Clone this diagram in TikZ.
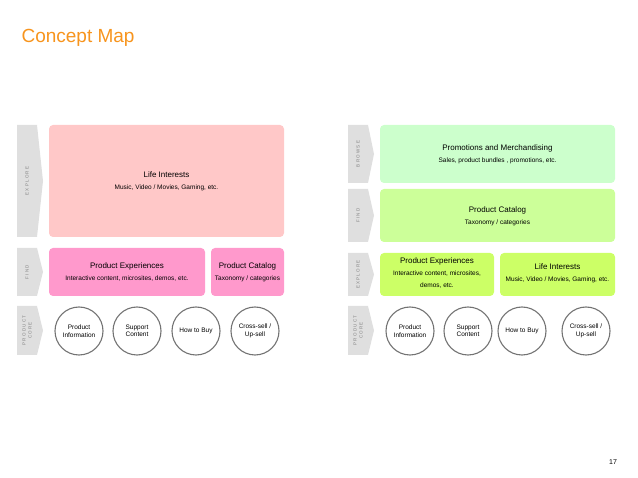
\documentclass[tikz,border=0pt]{standalone}
\usepackage{fontspec}
\setmainfont{Liberation Sans}
\begin{document}
\begin{tikzpicture}[x=1pt,y=-1pt,
  box/.style={rounded corners=4pt,draw=none},
  circ/.style={circle,draw=gray!90!black,line width=1.1pt,minimum size=48pt,inner sep=0pt,font=\fontsize{6.5}{7.5}\selectfont,align=center},
  tab/.style={fill=gray!25,draw=none},
  tablab/.style={rotate=90,font=\fontsize{4.5}{6}\selectfont,text=gray,align=center},
  t1/.style={font=\fontsize{8}{9.5}\selectfont},
  t2/.style={font=\fontsize{6.5}{8}\selectfont}]
\useasboundingbox (0,0) rectangle (638,478);
\definecolor{orng}{HTML}{F7941D}
\node[anchor=west,text=orng,font=\fontsize{19}{22}\selectfont] (title) at (18,38) {Concept Map};
\node[font=\fontsize{7}{8}\selectfont] (pg) at (613,462) {17};
% tabs
\newcommand{\tabshape}[4]{% x0 y0 y1 name
  \fill[tab] (#1,#2) -- (#1+20,#2) -- (#1+26,{(#2+#3)/2}) -- (#1+20,#3) -- (#1,#3) -- cycle;
  \coordinate (#4) at (#1+10,{(#2+#3)/2});}
\tabshape{17}{125}{237}{lt1}
\tabshape{17}{248}{296}{lt2}
\tabshape{17}{306}{355}{lt3}
\tabshape{348}{125}{183}{rt1}
\tabshape{348}{189}{242}{rt2}
\tabshape{348}{253}{296}{rt3}
\tabshape{348}{306}{355}{rt4}
\node[tablab] (l1) at (lt1) {E X P L O R E};
\node[tablab] (l2) at (lt2) {F I N D};
\node[tablab] (l3) at (lt3) {P R O D U C T\\C O R E};
\node[tablab] (r1) at (rt1) {B R O W S E};
\node[tablab] (r2) at (rt2) {F I N D};
\node[tablab] (r3) at (rt3) {E X P L O R E};
\node[tablab] (r4) at (rt4) {P R O D U C T\\C O R E};
% left boxes
\fill[box,fill={rgb,255:red,255;green,200;blue,200}] (49,125) rectangle (284,237);
\node[align=center] (li) at (166.5,181) {{\fontsize{8}{9.5}\selectfont Life Interests}\\{\fontsize{6.5}{8}\selectfont Music, Video / Movies, Gaming, etc.}};
\fill[box,fill={rgb,255:red,255;green,153;blue,204}] (49,248) rectangle (205,296);
\node[align=center] (pe) at (127,272) {{\fontsize{8}{9.5}\selectfont Product Experiences}\\{\fontsize{6.5}{8}\selectfont Interactive content, microsites, demos, etc.}};
\fill[box,fill={rgb,255:red,255;green,153;blue,204}] (211,248) rectangle (284,296);
\node[align=center] (pc) at (247.5,272) {{\fontsize{8}{9.5}\selectfont Product Catalog}\\{\fontsize{6.5}{8}\selectfont Taxonomy / categories}};
\node[circ] (c1) at (79,331) {Product\\Information};
\node[circ] (c2) at (137,331) {Support\\Content};
\node[circ] (c3) at (196,331) {How to Buy};
\node[circ] (c4) at (255,331) {Cross-sell /\\Up-sell};
% right boxes
\fill[box,fill={rgb,255:red,204;green,255;blue,204}] (380,125) rectangle (615,183);
\node[align=center] (pm) at (497.5,154) {{\fontsize{8}{9.5}\selectfont Promotions and Merchandising}\\{\fontsize{6.5}{8}\selectfont Sales, product bundles , promotions, etc.}};
\fill[box,fill={rgb,255:red,204;green,255;blue,153}] (380,189) rectangle (615,242);
\node[align=center] (rpc) at (497.5,216) {{\fontsize{8}{9.5}\selectfont Product Catalog}\\{\fontsize{6.5}{8}\selectfont Taxonomy / categories}};
\fill[box,fill={rgb,255:red,204;green,255;blue,102}] (380,253) rectangle (494,296);
\node[align=center] (rpe) at (437,273) {{\fontsize{8}{9.5}\selectfont Product Experiences}\\{\fontsize{6.5}{8}\selectfont Interactive content, microsites,}\\{\fontsize{6.5}{8}\selectfont demos, etc.}};
\fill[box,fill={rgb,255:red,204;green,255;blue,102}] (500,253) rectangle (615,296);
\node[align=center] (rli) at (557.5,273) {{\fontsize{8}{9.5}\selectfont Life Interests}\\{\fontsize{6.5}{8}\selectfont Music, Video / Movies, Gaming, etc.}};
\node[circ] (d1) at (410,331) {Product\\Information};
\node[circ] (d2) at (468,331) {Support\\Content};
\node[circ] (d3) at (522,331) {How to Buy};
\node[circ] (d4) at (586,331) {Cross-sell /\\Up-sell};
\end{tikzpicture}
\end{document}
